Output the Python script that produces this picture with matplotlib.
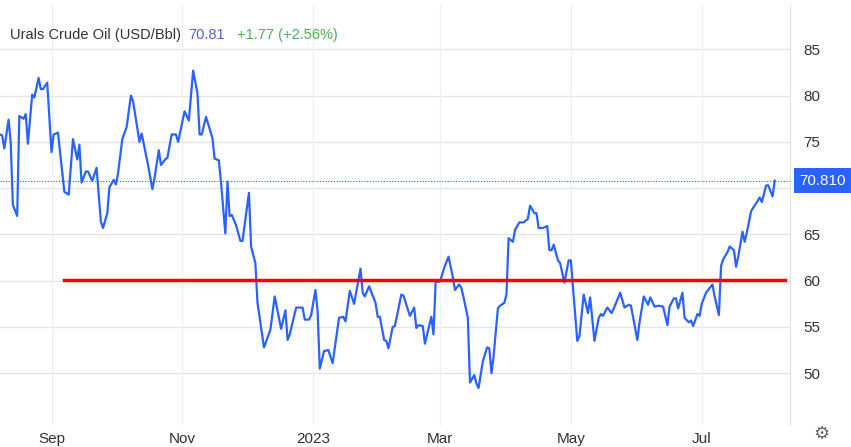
import numpy as np
import pandas as pd
import matplotlib
matplotlib.use("Agg")
import matplotlib.pyplot as plt

plt.rcParams['font.family'] = ['Liberation Sans', 'DejaVu Sans']

# day offsets from 2022-09-01 and closing price (USD/Bbl)
days = [-24, -23, -22, -20, -19, -18, -16, -15, -13, -12, -11, -9, -8, -6, -5, -4, -2, 0, 1, 3,
        6, 8, 10, 12, 13, 14, 16, 17, 19, 21, 23, 24, 26, 27, 29, 30, 31, 33, 35, 37,
        38, 40, 41, 42, 45, 47, 48, 50, 51, 53, 54, 56, 58, 59, 62, 64, 66, 68, 69, 70,
        72, 75, 76, 78, 79, 81, 82, 83, 84, 86, 88, 89, 92, 93, 95, 96, 99, 102, 104, 107,
        109, 110, 111, 114, 117, 118, 120, 121, 123, 124, 125, 127, 129, 131, 134, 136, 137, 139, 141, 144,
        145, 146, 148, 151, 152, 153, 155, 156, 157, 159, 160, 163, 164, 167, 169, 170, 171, 173, 174, 177,
        178, 179, 181, 183, 185, 187, 188, 190, 191, 192, 194, 195, 197, 198, 199, 201, 203, 204, 205, 206,
        208, 209, 211, 212, 213, 215, 216, 218, 220, 222, 223, 225, 226, 227, 229, 231, 232, 233, 234, 236,
        237, 239, 241, 242, 245, 246, 248, 250, 251, 253, 255, 256, 257, 259, 261, 262, 265, 267, 269, 270,
        273, 274, 276, 278, 279, 281, 283, 285, 287, 288, 290, 291, 292, 294, 295, 297, 298, 299, 301, 302,
        303, 305, 308, 309, 311, 312, 313, 315, 316, 318, 319, 320, 322, 323, 324, 326, 327, 329, 330, 331,
        333, 334, 336, 337]
prices = [75.8, 75.7, 74.3, 77.4, 74.9, 68.2, 67.0, 77.8, 77.5, 78.0, 74.8, 80.1, 79.8, 81.9, 80.7, 80.7, 81.4, 73.9, 75.8, 76.0,
          69.6, 69.3, 75.3, 73.1, 74.7, 70.6, 71.8, 71.8, 70.8, 72.2, 66.4, 65.7, 67.3, 70.1, 70.9, 70.4, 71.6, 75.3, 76.6, 80.0,
          79.4, 76.5, 75.0, 75.9, 72.5, 69.9, 71.1, 74.1, 72.5, 73.1, 73.3, 75.8, 75.8, 75.0, 78.3, 77.3, 82.7, 80.3, 75.8, 75.8,
          77.7, 75.4, 73.2, 73.0, 70.6, 65.1, 70.7, 67.0, 67.1, 66.0, 64.3, 64.3, 69.5, 63.7, 61.9, 57.6, 52.8, 54.7, 58.3, 54.8,
          56.8, 53.6, 54.2, 57.1, 57.1, 55.8, 55.8, 56.3, 59.0, 56.7, 50.5, 52.4, 52.5, 51.1, 56.0, 56.1, 55.6, 58.9, 57.5, 61.3,
          58.7, 58.3, 59.4, 57.6, 56.1, 56.1, 53.6, 53.5, 52.7, 55.0, 55.1, 58.5, 58.4, 56.2, 57.1, 54.9, 55.2, 55.1, 53.2, 56.1,
          54.2, 59.9, 59.9, 61.4, 62.6, 60.4, 59.0, 59.6, 59.2, 58.2, 56.0, 49.0, 49.8, 48.9, 48.4, 51.3, 52.8, 52.7, 50.0, 51.8,
          57.0, 57.3, 57.6, 58.5, 64.6, 64.2, 65.5, 66.3, 66.3, 66.7, 68.1, 67.3, 67.3, 65.7, 65.7, 65.9, 63.3, 63.3, 63.9, 62.2,
          61.9, 59.8, 62.2, 62.2, 53.5, 54.0, 58.5, 56.5, 58.2, 53.5, 56.0, 56.4, 56.2, 57.1, 56.5, 57.0, 58.7, 57.1, 57.4, 57.3,
          53.6, 55.5, 58.3, 57.4, 58.2, 57.2, 57.3, 57.2, 55.2, 57.2, 58.1, 58.1, 57.0, 58.7, 56.0, 55.5, 55.7, 55.1, 56.4, 56.2,
          57.5, 58.7, 59.6, 58.3, 56.3, 61.6, 62.3, 63.1, 63.7, 63.3, 61.5, 62.6, 65.3, 64.2, 65.2, 67.5, 67.9, 68.6, 69.0, 68.5,
          70.3, 70.3, 69.1, 70.81]
last_price = 70.81
level = 60.1
level_days = [6, 342]
x_ticks = ["2022-09-01", "2022-11-01", "2023-01-01", "2023-03-01", "2023-05-01", "2023-07-01"]
x_labels = ["Sep", "Nov", "2023", "Mar", "May", "Jul"]
y_ticks = [50, 55, 60, 65, 75, 80, 85]   # 70 is covered by the price box
grid_y = [50, 55, 60, 65, 70, 75, 80, 85]

base = pd.Timestamp("2022-09-01")
dates = [base + pd.Timedelta(days=d) for d in days]
lvl_dates = [base + pd.Timedelta(days=d) for d in level_days]

blue = "#2962ff"
fig = plt.figure(figsize=(8.51, 4.47), dpi=100)
ax = fig.add_axes([0.0, 0.049, 0.928, 0.94])
ax.set_xlim(base + pd.Timedelta(days=-24), base + pd.Timedelta(days=344))
ax.set_ylim(44.4, 89.8)

ax.set_yticks(y_ticks)
ax.set_xticks([pd.Timestamp(t) for t in x_ticks])
ax.set_xticklabels(x_labels)
ax.grid(True, axis="x", color="#eef0f3", linewidth=1)
for g in grid_y:
    ax.axhline(g, color="#e6e6e6", linewidth=1, zorder=0)
ax.yaxis.tick_right()
ax.tick_params(axis="y", length=0, labelsize=11, labelcolor="#333333", pad=10)
ax.tick_params(axis="x", length=0, labelsize=11, labelcolor="#333333", pad=5)
for s in ["top", "left", "bottom"]:
    ax.spines[s].set_visible(False)
ax.spines["right"].set_color("#e0e0e0")

ax.plot(dates, prices, color=blue, linewidth=1.6, zorder=3)
ax.plot(lvl_dates, [level, level], color="#ff0000", linewidth=2.5, zorder=4)
ax.axhline(last_price, color=blue, linewidth=0.8, linestyle=(0, (1, 1.5)), zorder=2)

ax.text(1.012, last_price, f"{last_price:.3f}", transform=ax.get_yaxis_transform(),
        ha="left", va="center", fontsize=11, color="white",
        bbox=dict(boxstyle="square,pad=0.35", facecolor=blue, edgecolor="none"), clip_on=False)

fig.text(0.012, 0.922, "Urals Crude Oil (USD/Bbl)", fontsize=10.5, color="#333333", va="center")
fig.text(0.221, 0.922, "70.81", fontsize=10.5, color="#5b5bd6", va="center")
fig.text(0.279, 0.922, "+1.77 (+2.56%)", fontsize=10.5, color="#4caf50", va="center")
fig.text(0.965, 0.028, "\u2699", fontsize=13, color="#666666", ha="center", va="center",
         family="DejaVu Sans")

fig.savefig("out.png", dpi=100)
